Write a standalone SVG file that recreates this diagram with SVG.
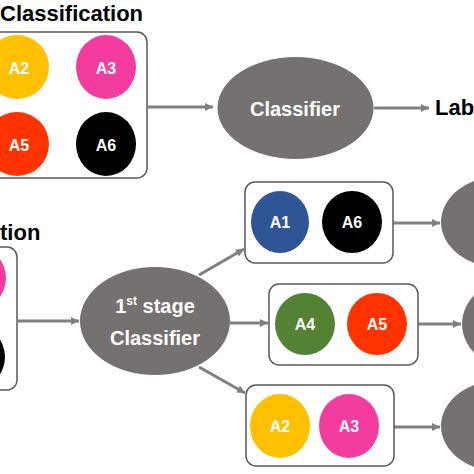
<svg xmlns="http://www.w3.org/2000/svg" width="474" height="474" viewBox="0 0 474 474">
<defs>
<style>
.box{fill:#fff;stroke:#595959;stroke-width:1.5}
.clf{fill:#767171}
.lbl{font-family:"Liberation Sans",Arial,sans-serif;font-weight:bold;font-size:16px;fill:#fff;text-anchor:middle}
.ctext{font-family:"Liberation Sans",Arial,sans-serif;font-weight:bold;font-size:20px;fill:#fff;text-anchor:middle}
.title{font-family:"Liberation Sans",Arial,sans-serif;font-weight:bold;font-size:22px;fill:#000}
.conn{stroke:#7f7f7f;stroke-width:3;fill:none;marker-end:url(#ah)}
</style>
<marker id="ah" markerUnits="userSpaceOnUse" markerWidth="10" markerHeight="10" refX="8" refY="4" orient="auto">
<path d="M0,0 L8,4 L0,8 Z" fill="#7f7f7f"/>
</marker>
</defs>
<rect width="474" height="474" fill="#fff"/>

<text class="title" x="0" y="21">Classification</text>
<text class="title" x="0" y="240">tion</text>

<g id="connectors">
<line class="conn" x1="148" y1="107" x2="213" y2="107"/>
<line class="conn" x1="374" y1="108" x2="429" y2="108"/>
<line class="conn" x1="18" y1="321" x2="79" y2="321"/>
<line class="conn" x1="199" y1="275" x2="244" y2="249"/>
<line class="conn" x1="230" y1="323" x2="268" y2="323"/>
<line class="conn" x1="199" y1="367" x2="245" y2="393"/>
<line class="conn" x1="393" y1="223" x2="440" y2="223"/>
<line class="conn" x1="418" y1="324" x2="461" y2="324"/>
<line class="conn" x1="394" y1="427" x2="440" y2="427"/>
</g>

<g id="flat-box">
<rect class="box" x="-20" y="32" width="167" height="146" rx="10"/>
<ellipse cx="17" cy="67" rx="32" ry="32" fill="#ffc000"/>
<text class="lbl" x="19" y="74">A2</text>
<ellipse cx="106" cy="67" rx="30" ry="32" fill="#f43b9f"/>
<text class="lbl" x="106" y="74">A3</text>
<ellipse cx="17" cy="144" rx="32" ry="32" fill="#ff3300"/>
<text class="lbl" x="19" y="151">A5</text>
<ellipse cx="106" cy="144" rx="30" ry="32" fill="#000"/>
<text class="lbl" x="106" y="151">A6</text>
</g>

<g id="classifier">
<ellipse class="clf" cx="295.5" cy="108" rx="78" ry="51"/>
<text class="ctext" x="295" y="116">Classifier</text>
</g>

<g id="label">
<text class="title" x="435" y="115">Lab</text>
</g>

<g id="hier-box">
<rect class="box" x="-60" y="247" width="77" height="143" rx="10"/>
<circle cx="-26" cy="278" r="32" fill="#f43b9f"/>
<circle cx="-27" cy="357" r="32" fill="#000"/>
</g>

<g id="stage1">
<ellipse class="clf" cx="155" cy="321" rx="75" ry="54"/>
<text class="ctext" x="155" y="313">1<tspan font-size="12" dy="-8">st</tspan><tspan dy="8"> stage</tspan></text>
<text class="ctext" x="155" y="345">Classifier</text>
</g>

<g id="group1">
<rect class="box" x="245" y="182" width="148" height="81" rx="10"/>
<ellipse cx="280" cy="222" rx="29" ry="31" fill="#2f5597"/>
<text class="lbl" x="280" y="228">A1</text>
<ellipse cx="352" cy="222" rx="30" ry="31" fill="#000"/>
<text class="lbl" x="352" y="228">A6</text>
</g>

<g id="group2">
<rect class="box" x="269" y="284" width="149" height="81" rx="10"/>
<ellipse cx="305" cy="324" rx="30" ry="31" fill="#548235"/>
<text class="lbl" x="305" y="330">A4</text>
<ellipse cx="377" cy="324" rx="30" ry="31" fill="#ff3300"/>
<text class="lbl" x="377" y="330">A5</text>
</g>

<g id="group3">
<rect class="box" x="246" y="385" width="148" height="81" rx="10"/>
<ellipse cx="280" cy="426" rx="30" ry="32" fill="#ffc000"/>
<text class="lbl" x="280" y="432">A2</text>
<ellipse cx="349" cy="426" rx="30" ry="32" fill="#f43b9f"/>
<text class="lbl" x="349" y="432">A3</text>
</g>

<g id="clf1"><ellipse class="clf" cx="501" cy="222" rx="60" ry="46"/></g>
<g id="clf2"><ellipse class="clf" cx="522" cy="324" rx="60" ry="48"/></g>
<g id="clf3"><ellipse class="clf" cx="501" cy="426" rx="60" ry="46"/></g>
</svg>
